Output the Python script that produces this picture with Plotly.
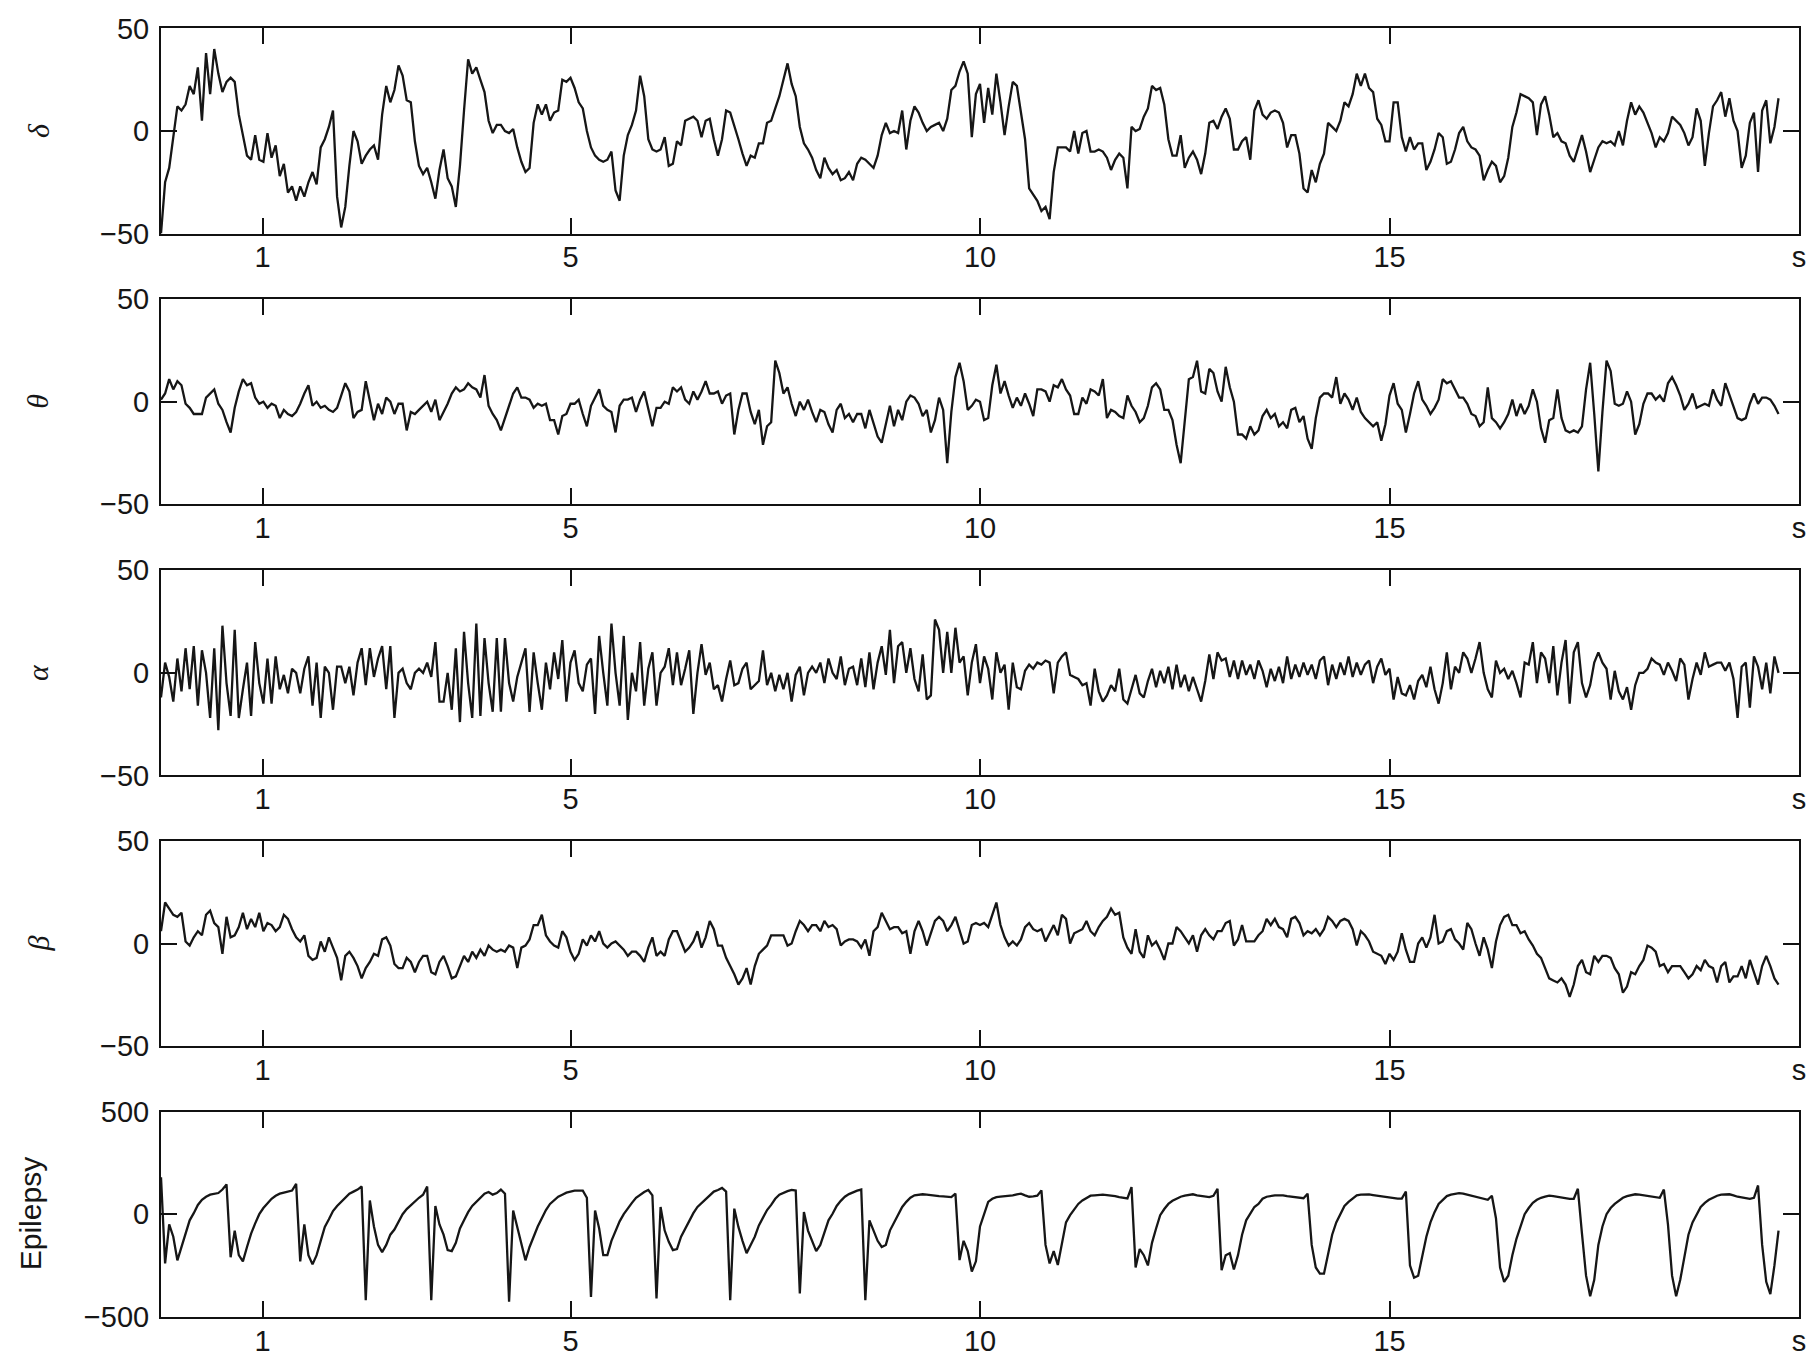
import numpy as np
import plotly.graph_objects as go

DT = 0.05  # seconds between samples

delta = [
-50,-25,-18,-2,12,10,13,22,18,31,
5,38,18,40,28,19,24,26,24,8,
-3,-12,-14,-2,-14,-15,-1,-13,-7,-22,
-16,-30,-27,-34,-27,-32,-25,-20,-26,-8,
-4,2,10,-32,-47,-37,-17,0,-5,-16,
-12,-9,-7,-14,8,22,14,20,32,27,
15,14,-5,-17,-21,-18,-25,-33,-19,-9,
-23,-27,-37,-17,10,35,28,31,25,19,
5,-1,3,3,0,-1,1,-8,-15,-20,
-18,4,13,8,13,5,9,10,25,24,
26,21,14,11,0,-8,-12,-14,-15,-14,
-10,-29,-34,-12,-2,3,10,27,17,-4,
-9,-10,-9,-3,-17,-16,-5,-7,5,6,
7,5,-3,5,6,-4,-12,-4,10,9,
3,-4,-11,-17,-12,-13,-6,-6,4,5,
11,17,25,33,23,17,2,-6,-9,-13,
-19,-23,-13,-18,-21,-19,-24,-23,-20,-24,
-16,-13,-14,-16,-18,-12,-2,4,-1,0,
-1,10,-9,5,12,9,4,0,2,3,
4,0,6,20,22,29,34,28,-3,18,
23,4,21,8,28,14,-2,12,24,22,
10,-4,-28,-31,-34,-39,-37,-43,-20,-8,
-8,-8,-10,0,-11,-1,0,-10,-10,-9,
-10,-13,-19,-14,-11,-13,-28,2,0,1,
7,11,22,20,21,13,-4,-12,-12,-2,
-18,-13,-10,-14,-21,-11,4,5,1,7,
11,6,-9,-9,-5,-3,-14,10,15,8,
6,9,10,9,4,-8,-2,-2,-11,-28,
-30,-19,-25,-16,-11,4,2,0,5,14,
12,18,28,22,28,21,19,6,3,-5,
-5,14,14,-3,-10,-3,-9,-6,-6,-19,
-15,-9,-1,-3,-16,-15,-9,-1,2,-5,
-8,-9,-12,-24,-19,-15,-17,-25,-22,-13,
2,9,18,17,16,14,-2,13,17,8,
-3,-1,-5,-6,-12,-15,-9,-2,-10,-20,
-14,-8,-5,-6,-5,-7,0,-7,5,14,
8,12,9,4,-1,-8,-3,-5,-1,7,
5,3,-1,-7,-3,11,5,-17,-1,12,
15,19,7,16,5,0,-18,-12,4,9,
-20,10,15,-6,2,16,
]

theta = [
1,4,11,6,10,8,-1,-3,-6,-6,
-6,2,4,6,-1,-4,-10,-15,-3,5,
11,8,9,2,-1,0,-3,-1,-2,-8,
-4,-6,-7,-5,-1,4,8,-2,0,-3,
-2,-4,-5,-3,3,9,5,-8,-5,-4,
10,1,-9,-1,-6,2,0,-6,-1,-1,
-14,-5,-6,-4,-2,0,-5,1,-9,-5,
-1,4,7,5,6,9,7,6,2,13,
-2,-6,-9,-14,-8,-2,4,7,2,2,
1,-3,-1,-2,-1,-9,-9,-16,-7,-6,
-1,-1,1,-6,-12,-2,2,6,-2,-4,
-5,-15,-2,1,1,2,-5,1,5,-4,
-12,-3,-3,0,-1,7,5,7,1,-1,
5,1,5,10,4,4,5,-1,3,4,
-16,-4,4,4,-5,-11,-4,-21,-12,-10,
20,14,4,7,-1,-7,0,-4,1,-5,
-10,-4,-5,-11,-15,-4,-1,-8,-6,-10,
-6,-6,-13,-4,-11,-17,-20,-11,-2,-12,
-4,-9,0,3,2,-1,-7,-4,-15,-9,
2,-4,-30,-5,12,19,10,-4,-2,1,
0,-9,-8,8,18,4,10,3,-3,2,
-2,4,-1,-7,6,6,5,0,8,7,
11,6,3,-6,-6,2,-1,6,5,3,
11,-8,-4,-5,-7,-8,3,-2,-5,-10,
-8,-2,7,9,6,-4,-4,-9,-21,-30,
-10,11,12,20,5,4,16,14,5,0,
17,7,0,-16,-16,-18,-12,-16,-14,-7,
-4,-8,-6,-12,-10,-13,-4,-3,-10,-7,
-18,-23,-8,2,4,4,2,12,-1,4,
1,-4,2,-5,-8,-10,-12,-10,-19,-11,
3,9,-1,-4,-15,-6,4,10,1,-2,
-6,-3,1,11,9,10,6,2,2,-1,
-6,-7,-12,-10,7,-8,-10,-13,-10,-6,
1,-7,-1,-6,-2,6,0,-13,-20,-9,
-8,6,-8,-14,-15,-14,-15,-12,6,19,
-6,-34,-5,20,15,-1,-2,-1,5,0,
-16,-11,-1,4,4,1,3,0,9,12,
8,3,-4,-1,4,-3,-2,-1,-2,6,
1,-2,9,3,-2,-8,-9,-8,-1,4,
-1,2,2,1,-2,-6,
]

alpha = [
-12,5,-2,-14,7,-9,12,-8,13,-16,
11,0,-22,12,-28,23,-5,-21,21,-22,
-8,5,-21,15,-5,-15,7,-15,8,-8,
-1,-10,2,0,-10,2,8,-16,5,-22,
3,0,-18,3,3,-5,3,-11,5,12,
-6,12,-2,7,13,-8,13,-22,0,2,
-5,-8,0,2,0,5,-2,15,-14,-14,
0,-18,12,-24,20,-5,-22,24,-21,17,
-5,-19,17,-19,17,-5,-14,-2,5,12,
-19,10,-5,-18,5,-8,10,-3,16,-14,
5,11,-5,-9,4,7,-20,18,0,-16,
24,0,-16,18,-23,0,-9,15,-16,2,
10,-16,0,3,12,-6,10,-6,2,11,
-20,0,14,-1,5,-8,-6,-14,-3,6,
-6,-5,2,5,-8,-6,-4,11,-6,0,
-9,-1,-8,0,-14,-1,3,-11,0,3,
0,5,-5,7,0,-3,8,-6,2,3,
-6,7,-7,10,-8,5,13,-1,21,-5,
13,15,0,12,-3,-9,9,-13,-11,26,
21,0,20,0,22,5,8,-11,5,14,
-5,8,2,-13,10,0,4,-18,5,-7,
-8,1,4,2,5,4,6,5,-10,5,
8,10,-1,-2,-3,-6,-5,-16,2,-9,
-14,-11,-6,-9,2,-13,-15,-8,-1,-10,
-12,-4,2,-7,1,-5,3,-8,4,-7,
-1,-9,-2,-8,-14,-4,9,-3,10,6,
7,-2,6,-3,6,-1,4,-3,6,1,
-7,2,-4,3,-5,8,-3,4,-2,5,
-1,4,-3,6,8,-6,4,-3,5,-1,
8,-2,5,-1,4,6,-5,3,7,-1,
2,-13,-2,-10,-11,-6,-13,-4,-1,-7,
3,-8,-15,-5,10,-8,3,0,10,7,
0,7,15,0,-8,-12,6,0,2,-3,
1,-5,-12,5,4,15,-5,10,7,-5,
13,-11,5,16,-15,10,15,-5,-12,-6,
5,10,5,2,-13,1,-9,-13,-7,-18,
-6,0,0,2,7,5,4,-1,5,1,
-4,7,4,-13,-3,5,-1,10,3,4,
5,5,1,5,-3,-22,3,5,-17,8,
3,-8,5,-10,8,0,
]

beta = [
6,20,17,14,13,15,1,-1,3,6,
4,14,16,10,8,-5,13,3,4,8,
15,7,12,8,15,6,10,9,6,8,
14,12,7,3,1,4,-6,-8,-7,1,
-4,3,-2,-7,-18,-6,-4,-7,-11,-17,
-12,-9,-5,-6,2,3,-1,-10,-12,-12,
-7,-9,-14,-9,-6,-6,-14,-15,-9,-6,
-11,-17,-16,-11,-6,-9,-4,-7,-3,-6,
-1,-3,-4,-3,-4,-1,-2,-12,-2,-1,
2,9,9,14,4,1,-1,-2,6,3,
-4,-8,-5,2,-1,4,1,6,0,-2,
0,1,-1,-3,-6,-4,-4,-6,-9,-2,
3,-6,-4,-6,2,6,6,1,-4,-2,
1,6,-2,3,11,7,-1,-1,-7,-11,
-15,-20,-17,-12,-20,-11,-5,-3,-1,4,
4,4,4,-1,0,6,11,9,6,9,
9,6,11,8,9,7,-1,1,2,2,
1,-2,2,-6,6,8,15,11,7,8,
8,5,6,-5,6,11,6,-1,5,11,
13,11,6,9,13,6,0,1,9,10,
9,10,8,14,20,9,3,-1,1,-1,
2,8,10,7,6,7,1,5,9,4,
14,12,0,5,6,7,11,6,4,8,
11,13,17,14,15,3,-2,-5,7,-4,
-7,4,-1,1,-3,-8,0,0,8,6,
3,0,4,-4,4,7,4,2,6,6,
10,11,-1,2,9,1,1,1,4,6,
12,9,12,8,7,3,12,13,10,4,
6,5,7,4,7,13,11,8,11,12,
11,7,-1,6,4,1,-4,-5,-6,-10,
-5,-8,-4,5,-3,-9,-9,0,3,-2,
3,14,0,1,6,7,2,0,-3,10,
7,0,-6,3,-3,-12,1,9,13,14,
9,9,5,6,2,-1,-5,-7,-12,-17,
-18,-19,-17,-20,-26,-20,-11,-8,-14,-15,
-6,-9,-6,-6,-7,-12,-15,-24,-21,-14,
-15,-11,-8,-1,-2,-4,-11,-10,-14,-11,
-11,-11,-14,-17,-15,-11,-13,-8,-11,-12,
-19,-11,-9,-19,-16,-16,-11,-17,-8,-14,
-20,-11,-6,-11,-17,-20,
]

epilepsy = [
180,-240,-50,-110,-225,-160,-90,-30,5,45,
70,85,95,100,103,120,145,-210,-80,-200,
-230,-160,-95,-45,0,30,55,75,90,100,
105,110,115,148,-230,-50,-200,-245,-200,-130,
-62,-25,15,40,60,75,100,110,120,135,
-420,67,-60,-150,-185,-150,-100,-75,-40,0,
25,45,60,80,95,135,-420,40,-50,-100,
-175,-180,-140,-70,-30,10,40,60,75,100,
108,95,103,120,100,-427,18,-65,-150,-225,
-160,-110,-60,-20,20,50,70,85,95,105,
110,115,115,115,80,-404,18,-70,-200,-200,
-130,-80,-35,0,30,55,80,95,108,118,
92,-411,35,-80,-135,-175,-170,-110,-70,-30,
5,35,55,75,95,110,118,128,110,-420,
27,-62,-130,-190,-150,-110,-55,-20,20,45,
75,95,105,112,118,115,-387,10,-80,-130,
-180,-150,-95,-30,2,40,65,85,98,108,
115,120,-420,-30,-85,-130,-160,-150,-80,-40,
0,35,60,80,92,95,97,95,92,90,
88,87,86,83,100,-224,-130,-180,-280,-230,
-60,5,60,75,83,86,87,90,92,97,
100,92,85,87,90,116,-150,-240,-180,-248,
-150,-40,-5,20,50,67,80,90,92,95,
95,93,92,88,83,80,77,132,-260,-170,
-200,-250,-140,-70,-5,25,50,65,77,85,
90,95,97,92,90,88,83,90,124,-273,
-200,-190,-270,-200,-100,-30,0,35,50,75,
85,90,92,92,92,88,85,83,80,78,
100,-150,-260,-290,-290,-200,-100,-40,0,40,
60,75,92,95,97,96,93,90,88,83,
80,78,76,76,110,-250,-310,-300,-200,-110,
-40,10,50,70,88,95,100,103,100,95,
90,83,78,73,70,90,-20,-260,-330,-300,
-200,-120,-60,0,30,55,70,80,85,90,
88,85,80,76,75,75,124,-95,-300,-400,
-320,-150,-60,0,30,50,65,80,88,93,
97,95,92,90,88,85,80,120,-50,-300,
-400,-320,-200,-100,-40,0,35,55,70,80,
90,95,97,97,92,85,82,78,75,80,
140,-150,-330,-390,-250,-80,
]

x_tickvals = [1.24, 5, 10, 15, 20]
x_ticktext = ["1", "5", "10", "15", "s"]

panels = [
    ("<i>δ</i>", delta, 50, ["\u221250", "0", "50"], "serif"),
    ("<i>θ</i>", theta, 50, ["\u221250", "0", "50"], "serif"),
    ("<i>α</i>", alpha, 50, ["\u221250", "0", "50"], "serif"),
    ("<i>β</i>", beta, 50, ["\u221250", "0", "50"], "serif"),
    ("Epilepsy", epilepsy, 500, ["\u2212500", "0", "500"], "sans"),
]

W, H = 1818, 1369
ML, MR, MT, MB = 161, 18, 24, 52
PH = H - MT - MB
PW = W - ML - MR
tops = [24.5, 296, 568, 839.5, 1111]
panel_h = 205.7

SANS = "Liberation Sans, Arial, Helvetica, sans-serif"
SERIF = "Liberation Serif, Times New Roman, serif"
INK = "#161616"

fig = go.Figure()
layout = {}
annotations = []
for i, (label, vals, lim, ytext, fam) in enumerate(panels):
    n = i + 1
    xa = "x" if n == 1 else f"x{n}"
    ya = "y" if n == 1 else f"y{n}"
    t = np.arange(len(vals)) * DT
    fig.add_trace(go.Scatter(x=t, y=vals, mode="lines", xaxis=xa, yaxis=ya,
                             line=dict(color=INK, width=2.3), showlegend=False,
                             hoverinfo="skip"))
    y1 = 1 - (tops[i] - MT) / PH
    y0 = 1 - (tops[i] + panel_h - MT) / PH
    common = dict(showline=True, linecolor="#111111", linewidth=2, mirror="ticks",
                  ticks="inside", ticklen=16, tickwidth=1.5, tickcolor="#111111",
                  showgrid=False, zeroline=False,
                  tickfont=dict(family=SANS, size=29, color=INK))
    layout["xaxis" if n == 1 else f"xaxis{n}"] = dict(
        domain=[0, 1], anchor=ya, range=[0, 20], tickmode="array",
        tickvals=x_tickvals, ticktext=x_ticktext, ticklabelstandoff=-3, **common)
    layout["yaxis" if n == 1 else f"yaxis{n}"] = dict(
        domain=[y0, y1], anchor=xa, range=[-lim, lim], tickmode="array",
        tickvals=[-lim, 0, lim], ticktext=ytext, ticklabelstandoff=4, **common)
    yc = (y0 + y1) / 2
    if fam == "serif":
        annotations.append(dict(text=label, xref="paper", yref="paper",
                                x=(38 - ML) / PW, y=yc, xanchor="center", yanchor="middle",
                                textangle=-90, showarrow=False,
                                font=dict(family=SERIF, size=30, color=INK)))
    else:
        annotations.append(dict(text=label, xref="paper", yref="paper",
                                x=(30 - ML) / PW, y=yc, xanchor="center", yanchor="middle",
                                textangle=-90, showarrow=False,
                                font=dict(family=SANS, size=30, color=INK)))

fig.update_layout(width=W, height=H, margin=dict(l=ML, r=MR, t=MT, b=MB),
                  paper_bgcolor="white", plot_bgcolor="white",
                  annotations=annotations, hovermode=False, **layout)

fig.write_html("out.html")
